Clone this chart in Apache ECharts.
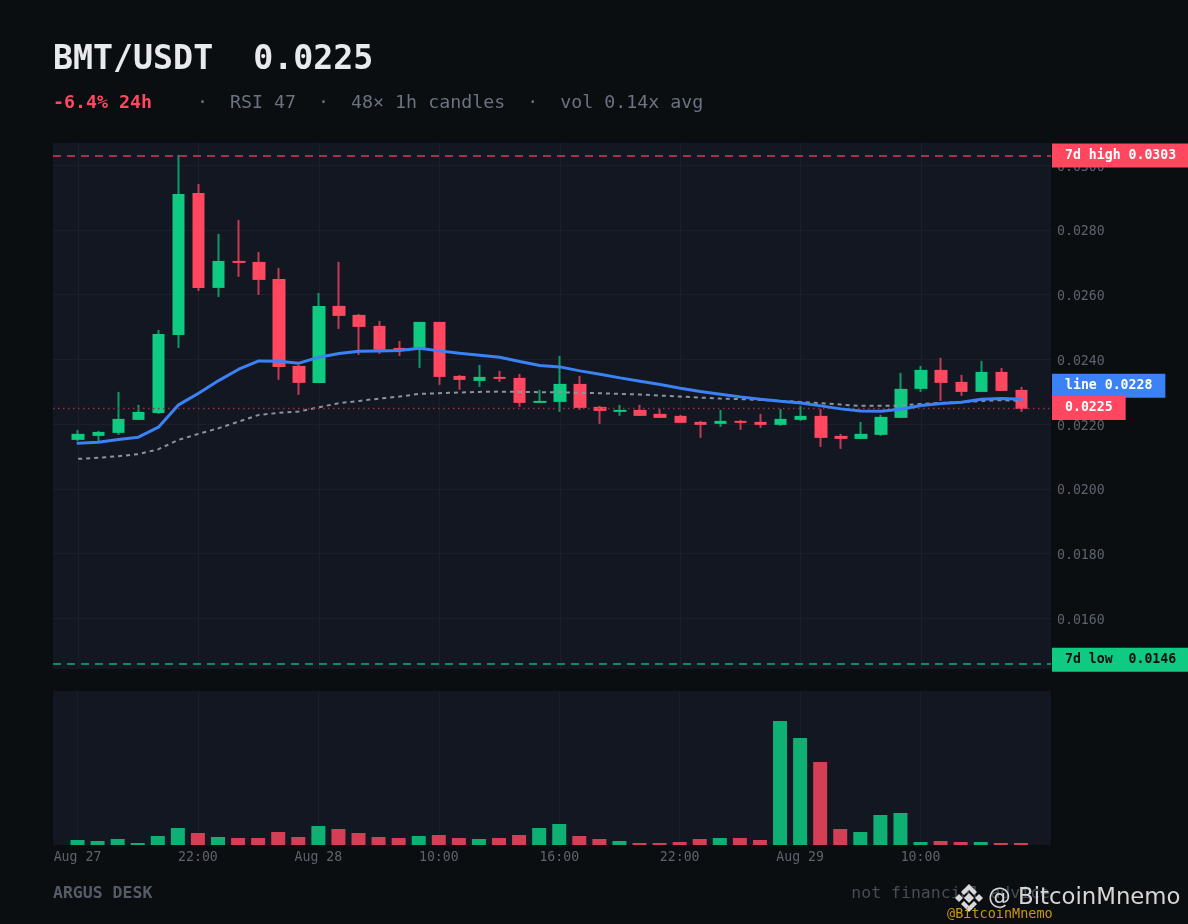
<!DOCTYPE html>
<html><head><meta charset="utf-8">
<style>html,body{margin:0;padding:0;background:#0b0e11}#c{width:1188px;height:924px}</style>
<script src="https://cdn.jsdelivr.net/npm/echarts@6/dist/echarts.min.js"></script>
</head><body><div id="c"></div>
<script>
const open_ = [.021514,.021637,.02173,.022131,.022347,.024757,.029143,.026208,.027042,.027012,.026486,.023799,.023274,.025653,.025375,.025035,.024355,.024355,.025158,.02349,.023336,.023459,.023429,.022656,.022687,.023243,.022533,.022378,.02244,.022317,.022255,.02207,.022008,.0221,.02207,.021977,.022131,.022255,.021637,.021544,.021668,.022193,.023089,.023676,.023305,.022996,.023614,.023058];
const close_ = [.0217,.02176,.022162,.022378,.024788,.029112,.026208,.027042,.026981,.026456,.023768,.023274,.025653,.025344,.025004,.024293,.024293,.025158,.023459,.023367,.023459,.023398,.022656,.022718,.023243,.022502,.022409,.02244,.022255,.022193,.022039,.021977,.0221,.022039,.021977,.022162,.022255,.021575,.021544,.021699,.022224,.023089,.023676,.023274,.022996,.023614,.023027,.022471];
const low_ = [.021483,.021461,.021668,.022131,.022317,.024355,.026116,.02593,.026548,.025992,.023367,.022903,.023274,.024942,.024139,.02417,.024108,.023737,.023212,.023058,.023151,.023305,.022533,.022656,.022378,.02244,.022008,.022255,.022255,.022193,.022039,.021575,.021915,.021822,.021884,.021946,.0221,.021297,.021235,.021544,.021637,.022193,.022996,.022718,.022873,.022996,.023027,.022378];
const high_ = [.021822,.021791,.022996,.022595,.024911,.030317,.029421,.027876,.028309,.02732,.026826,.02383,.026054,.027012,.025405,.025189,.024571,.025158,.025158,.023521,.02383,.023645,.023552,.023058,.024108,.02349,.022564,.022595,.022595,.022471,.022286,.0221,.02244,.022131,.022317,.022471,.022564,.022471,.021699,.02207,.022286,.023583,.023799,.024046,.023521,.023954,.023737,.023151];
const lineMA = [.021412,.021443,.021523,.021597,.021906,.022595,.022956,.023345,.023697,.023954,.023944,.023883,.024068,.024179,.024253,.024263,.024272,.024346,.024263,.024192,.02413,.024068,.023932,.023809,.023768,.023645,.023543,.023429,.023327,.023222,.02311,.023005,.022925,.022842,.022771,.022709,.022656,.022564,.022471,.022409,.0224,.022462,.022573,.022635,.022678,.022771,.022789,.022771];
const lineSlow = [.020927,.020958,.02101,.021072,.021226,.021514,.021699,.021875,.022079,.022286,.022347,.022388,.022524,.022647,.022718,.022789,.022851,.022934,.022956,.022975,.022996,.023005,.022996,.022987,.022987,.022965,.022956,.022934,.022913,.022882,.022851,.02282,.022789,.022771,.022749,.022718,.022687,.022647,.022604,.022564,.022564,.022573,.022625,.022656,.022678,.022718,.022739,.022718];
const volume = [.5,.4,.6,.2,.9,1.7,1.2,.8,.7,.7,1.3,.8,1.9,1.6,1.2,.8,.7,.9,1.0,.7,.6,.7,1.0,1.7,2.1,.9,.6,.4,.2,.2,.3,.6,.7,.7,.5,12.4,10.7,8.3,1.6,1.3,3.0,3.2,.3,.4,.3,.3,.2,.2];
const xTickIndex = [0,6,12,18,24,30,36,42];
const xTickLabels = ['Aug 27','22:00','Aug 28','10:00','16:00','22:00','Aug 29','10:00'];
const yTicks = [.016,.018,.020,.022,.024,.026,.028,.030];
const HIGH7D = 0.0303, LOW7D = 0.0146, LAST = 0.0225, LINE_LAST = 0.0228;

const MONOF = '"DejaVu Sans Mono"';
const MONO = MONOF+', monospace';
const UP='#0ecb81', DOWN='#ff4760', UPW='#0d9b68', DOWNW='#c43b52', UPV='#0eb073', DOWNV='#d43f56';
const axisGrey='#5d636d', gridC='#1a1f29';
const PANEL='#131721';
const XMIN=-1.2556, XMAX=48.47, VXMIN=-1.2207, VXMAX=48.5, YMIN=.014435, YMAX=.030685;
const idx = open_.map((_,i)=>i);
const wicks = idx.map(i=>[i,open_[i],close_[i],low_[i],high_[i]]);
const bodies = idx.map(i=>[i,open_[i],close_[i],Math.min(open_[i],close_[i]),Math.max(open_[i],close_[i])]);
const tagLabel=(txt,bg,fg,extra)=>Object.assign({show:true,position:'end',distance:1,formatter:txt,backgroundColor:bg,color:fg,
  fontFamily:MONOF,fontSize:13.2,fontWeight:'bold',padding:[5.5,13,5.5,13],borderRadius:0},extra||{});
const axisFont={color:axisGrey,fontFamily:MONOF,fontSize:13.2};
const chart = echarts.init(document.getElementById('c'),null,{renderer:'canvas'});
chart.setOption({
  animation:false,
  backgroundColor:'#0b0e11',
  grid:[
    {left:53,top:143,width:998,height:526,show:true,backgroundColor:PANEL,borderWidth:0},
    {left:53,top:691,width:998,height:154,show:true,backgroundColor:PANEL,borderWidth:0}
  ],
  xAxis:[
    {type:'value',gridIndex:0,min:XMIN,max:XMAX,axisLine:{show:false},axisTick:{show:false,customValues:xTickIndex},
     axisLabel:{show:false,customValues:xTickIndex},splitLine:{show:true,lineStyle:{color:gridC,width:1}}},
    {type:'value',gridIndex:1,min:VXMIN,max:VXMAX,axisLine:{show:false},axisTick:{show:false,customValues:xTickIndex},
     axisLabel:Object.assign({customValues:xTickIndex,hideOverlap:false,showMinLabel:true,showMaxLabel:true,margin:6,formatter:v=>xTickLabels[xTickIndex.indexOf(v)]},axisFont),
     splitLine:{show:true,lineStyle:{color:gridC,width:1}}}
  ],
  yAxis:[
    {type:'value',gridIndex:0,position:'right',min:YMIN,max:YMAX,axisLine:{show:false},axisTick:{show:false,customValues:yTicks},
     axisLabel:Object.assign({customValues:yTicks,margin:6,formatter:v=>'{v|'+v.toFixed(4)+'}',
       rich:{v:Object.assign({padding:[4,0,0,0]},axisFont)}},axisFont),
     splitLine:{show:true,lineStyle:{color:gridC,width:1}}},
    {type:'value',gridIndex:1,min:0,max:15.4,show:false,splitLine:{show:false}}
  ],
  series:[
    {name:'wick',type:'candlestick',xAxisIndex:0,yAxisIndex:0,data:wicks,barWidth:1,z:2,silent:true,clip:false,
     encode:{x:0,y:[1,2,3,4]},
     itemStyle:{color:UPW,color0:DOWNW,borderColor:UPW,borderColor0:DOWNW,borderWidth:2},
     markLine:{silent:true,symbol:'none',animation:false,precision:6,
       data:[
        {yAxis:LINE_LAST,lineStyle:{color:'transparent',width:1},label:tagLabel('line 0.0228','#3b82f6','#ffffff',{offset:[0,-12.5]})},
        {yAxis:HIGH7D,lineStyle:{color:'#a5324b',type:[8,6],width:2},label:tagLabel('7d high 0.0303','#ff4760','#ffffff')},
        {yAxis:LOW7D,lineStyle:{color:'#0f8a60',type:[8,6],width:2},label:tagLabel('7d low  0.0146',UP,'#0b0e11',{offset:[0,-4]})},
        {yAxis:LAST,lineStyle:{color:'#9c2f45',type:[1.5,3.5],width:1.3},label:tagLabel('0.0225','#ff4760','#ffffff')}
       ]}},
    {name:'body',type:'candlestick',xAxisIndex:0,yAxisIndex:0,data:bodies,barWidth:13,z:3,silent:true,clip:false,
     encode:{x:0,y:[1,2,3,4]},
     itemStyle:{color:UP,color0:DOWN,borderColor:UP,borderColor0:DOWN,borderWidth:0}},
    {name:'slow',type:'line',xAxisIndex:0,yAxisIndex:0,data:idx.map(i=>[i,lineSlow[i]]),showSymbol:false,z:4,silent:true,
     lineStyle:{color:'#8d93a0',width:2,type:[4,4]}},
    {name:'line',type:'line',xAxisIndex:0,yAxisIndex:0,data:idx.map(i=>[i,lineMA[i]]),showSymbol:false,z:5,silent:true,
     lineStyle:{color:'#3b82f6',width:3,cap:'square'}},
    {name:'vol',type:'bar',xAxisIndex:1,yAxisIndex:1,barWidth:14,silent:true,
     data:idx.map(i=>({value:[i,volume[i]],itemStyle:{color:close_[i]>=open_[i]?UPV:DOWNV}}))}
  ],
  graphic:{elements:[
    {type:'text',left:53,top:44,style:{text:'BMT/USDT  0.0225',font:'bold 33.25px '+MONO,fill:'#e8eaed'}},
    {type:'text',left:53,top:94,style:{text:'-6.4% 24h',font:'bold 18.3px '+MONO,fill:'#ff4760'}},
    {type:'text',left:197,top:94,style:{text:'·  RSI 47  ·  48× 1h candles  ·  vol 0.14x avg',font:'18.3px '+MONO,fill:'#6b7280'}},
    {type:'text',left:53,top:885,style:{text:'ARGUS DESK',font:'bold 16.5px '+MONO,fill:'#565c66'}},
    {type:'text',right:138,top:885,style:{text:'not financial advice',font:'16.5px '+MONO,fill:'#474c56'}},
    {type:'group',left:955,top:884,children:[
      {type:'polygon',shape:{points:[[14,9],[19,14],[14,19],[9,14]]},style:{fill:'#d9d9d9'}},
      {type:'polygon',shape:{points:[[4,10],[8,14],[4,18],[0,14]]},style:{fill:'#d9d9d9'}},
      {type:'polygon',shape:{points:[[24,10],[28,14],[24,18],[20,14]]},style:{fill:'#d9d9d9'}},
      {type:'polygon',shape:{points:[[14,0],[22,8],[19,11],[14,6],[9,11],[6,8]]},style:{fill:'#d9d9d9'}},
      {type:'polygon',shape:{points:[[14,28],[22,20],[19,17],[14,22],[9,17],[6,20]]},style:{fill:'#d9d9d9'}}
    ]},
    {type:'text',left:988,top:887,style:{text:'@ BitcoinMnemo',font:'22.8px "DejaVu Sans", sans-serif',fill:'#d6d6d6'}},
    {type:'text',left:947,top:907,style:{text:'@BitcoinMnemo',font:'13.5px '+MONO,fill:'#c9960f'}}
  ]}
});
</script></body></html>
